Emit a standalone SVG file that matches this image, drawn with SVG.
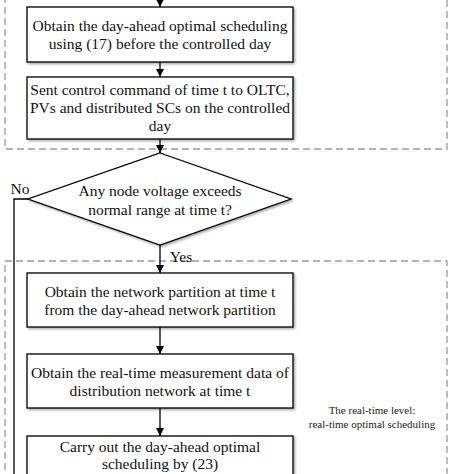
<svg xmlns="http://www.w3.org/2000/svg" width="474" height="474" viewBox="0 0 474 474">
<defs>
<marker id="arr" viewBox="0 0 10 10" refX="10" refY="5" markerWidth="8" markerHeight="8" markerUnits="userSpaceOnUse" orient="auto">
<path d="M0,0 L10,5 L0,10 z" fill="#000"/>
</marker>
<filter id="sh" x="-5%" y="-5%" width="115%" height="125%">
<feDropShadow dx="1.5" dy="1.5" stdDeviation="1" flood-color="#000" flood-opacity="0.35"/>
</filter>
</defs>
<style>
.box{fill:#fff;stroke:#000;stroke-width:1.3;}
.dash{fill:none;stroke:#9a9a9a;stroke-width:1.3;stroke-dasharray:7,4;}
.t{font-family:"Liberation Serif","Times New Roman",serif;font-size:15.5px;fill:#111;text-anchor:middle;}
.s{font-family:"Liberation Serif","Times New Roman",serif;font-size:11px;fill:#222;text-anchor:middle;}
.c{fill:none;stroke:#000;stroke-width:1.3;}
</style>
<rect width="474" height="474" fill="#fff"/>
<g id="dayahead-level">
<rect class="dash" x="5" y="-20" width="442" height="169"/>
</g>
<g id="realtime-level">
<rect class="dash" x="5" y="261" width="442" height="240"/>
<text class="s" x="372" y="414">The real-time level:</text>
<text class="s" x="372" y="428">real-time optimal scheduling</text>
</g>
<g id="connectors">
<line class="c" x1="160" y1="-2" x2="160" y2="7" marker-end="url(#arr)"/>
<line class="c" x1="160" y1="62" x2="160" y2="77" marker-end="url(#arr)"/>
<line class="c" x1="160" y1="139" x2="160" y2="153" marker-end="url(#arr)"/>
<line class="c" x1="160" y1="245" x2="160" y2="273" marker-end="url(#arr)"/>
<line class="c" x1="160" y1="327" x2="160" y2="354" marker-end="url(#arr)"/>
<line class="c" x1="160" y1="408" x2="160" y2="436" marker-end="url(#arr)"/>
<polyline class="c" points="28,199 14,199 14,480"/>
<text class="t" x="20" y="194">No</text>
<text class="t" x="181" y="262">Yes</text>
</g>
<g id="n1">
<rect class="box" x="27" y="7" width="266" height="55" filter="url(#sh)"/>
<text class="t" x="160" y="31">Obtain the day-ahead optimal scheduling</text>
<text class="t" x="160" y="49">using  (17) before the controlled day</text>
</g>
<g id="n2">
<rect class="box" x="27" y="77" width="266" height="62" filter="url(#sh)"/>
<text class="t" x="160" y="95">Sent control command of time t to OLTC,</text>
<text class="t" x="160" y="113">PVs and distributed SCs on the controlled</text>
<text class="t" x="160" y="131">day</text>
</g>
<g id="n3">
<polygon class="box" points="160,153 291,199 160,245 28,199" filter="url(#sh)"/>
<text class="t" x="160" y="196">Any node voltage exceeds</text>
<text class="t" x="160" y="215">normal range at time t?</text>
</g>
<g id="n4">
<rect class="box" x="27" y="273" width="266" height="54" filter="url(#sh)"/>
<text class="t" x="160" y="297">Obtain the network partition at time t</text>
<text class="t" x="160" y="315">from the  day-ahead network partition</text>
</g>
<g id="n5">
<rect class="box" x="27" y="354" width="266" height="54" filter="url(#sh)"/>
<text class="t" x="160" y="378">Obtain the real-time measurement data of</text>
<text class="t" x="160" y="396">distribution network at time t</text>
</g>
<g id="n6">
<rect class="box" x="27" y="436" width="266" height="60" filter="url(#sh)"/>
<text class="t" x="160" y="451.5">Carry out the day-ahead optimal</text>
<text class="t" x="160" y="469">scheduling by (23)</text>
</g>
</svg>
